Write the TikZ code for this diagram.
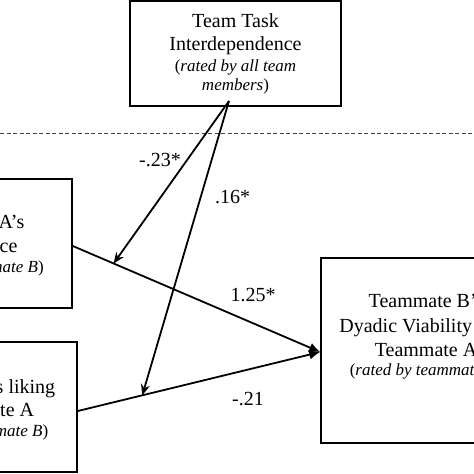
\documentclass[tikz,border=0pt]{standalone}
\usepackage{fontspec}
\setmainfont{Liberation Serif}
\usetikzlibrary{arrows.meta}
\begin{document}
\begin{tikzpicture}[x=1pt,y=-1pt,
  frame/.style={draw=black, line width=1.6pt, inner sep=0pt, fill=none},
  txt/.style={align=center, inner sep=0pt, anchor=base, font=\fontsize{20}{24}\selectfont},
  coef/.style={inner sep=0pt, anchor=base, font=\fontsize{20}{24}\selectfont},
  mainarrow/.style={line width=1.8pt, -{Latex[length=11pt,width=10pt]}},
  modarrow/.style={line width=1.8pt, -{Stealth[length=11pt,width=9pt]}},
  sep/.style={line width=1pt, black!75, dash pattern=on 4pt off 2.5pt}]
\useasboundingbox (0,0) rectangle (474,474);
\fill[white] (0,0) rectangle (474,474);

% boxes
\node[frame, minimum width=211pt, minimum height=105pt] (tbox) at (235.5,53.5) {};
\node[frame, minimum width=210pt, minimum height=129pt] (ltbox) at (-33,243.5) {};
\node[frame, minimum width=210pt, minimum height=130pt] (lbbox) at (-28,407) {};
\node[frame, minimum width=210pt, minimum height=185pt] (rbox) at (426,350.5) {};

% box texts (anchored at the baseline of their last line)
\node[txt] (ttext) at (235.5,90) {Team Task\\[-1pt] Interdependence\\[-3pt]
  {\fontsize{17}{20}\selectfont(\textit{rated by all team}}\\[-5pt]
  {\fontsize{17}{20}\selectfont\textit{members})}};
\node[txt] (lttext) at (-32.5,272) {Teammate A’s\\ Competence\\[-4pt]
  {\fontsize{17}{20}\selectfont(\textit{rated by teammate B})}};
\node[txt] (lbtext) at (-28,436) {Teammate B’s liking\\[-1pt] of Teammate A\\[-4pt]
  {\fontsize{17}{20}\selectfont(\textit{rated by teammate B})}};
\node[txt] (rtext) at (426,375) {Teammate B’s\\[1pt] Dyadic Viability with\\ Teammate A\\[-5pt]
  {\fontsize{17}{20}\selectfont(\textit{rated by teammate B})}};

% separator
\coordinate (sepL) at (0,133);
\coordinate (sepR) at (474,133);
\draw[sep] (sepL) -- (sepR);

% main paths
\coordinate (ltout) at ([yshift=-2.5pt]ltbox.east);
\coordinate (lbout) at ([yshift=-4pt]lbbox.east);
\coordinate (rin) at ([yshift=-1.5pt]rbox.west);
\draw[mainarrow] (ltout) -- (rin);
\draw[mainarrow] (lbout) -- (rin);
\path (ltout) -- (rin) coordinate[pos=0.165] (p1);
\path (lbout) -- (rin) coordinate[pos=0.266] (p2);

% moderator arrows
\coordinate (mod) at (229,101);
\draw[modarrow] (mod) -- (p1);
\draw[modarrow] (mod) -- (p2);

% coefficients
\node[coef] (c1) at (160,166) {-.23*};
\node[coef] (c2) at (232.5,203) {.16*};
\node[coef] (c3) at (253,301) {1.25*};
\node[coef] (c4) at (248,405) {-.21};
\end{tikzpicture}
\end{document}
